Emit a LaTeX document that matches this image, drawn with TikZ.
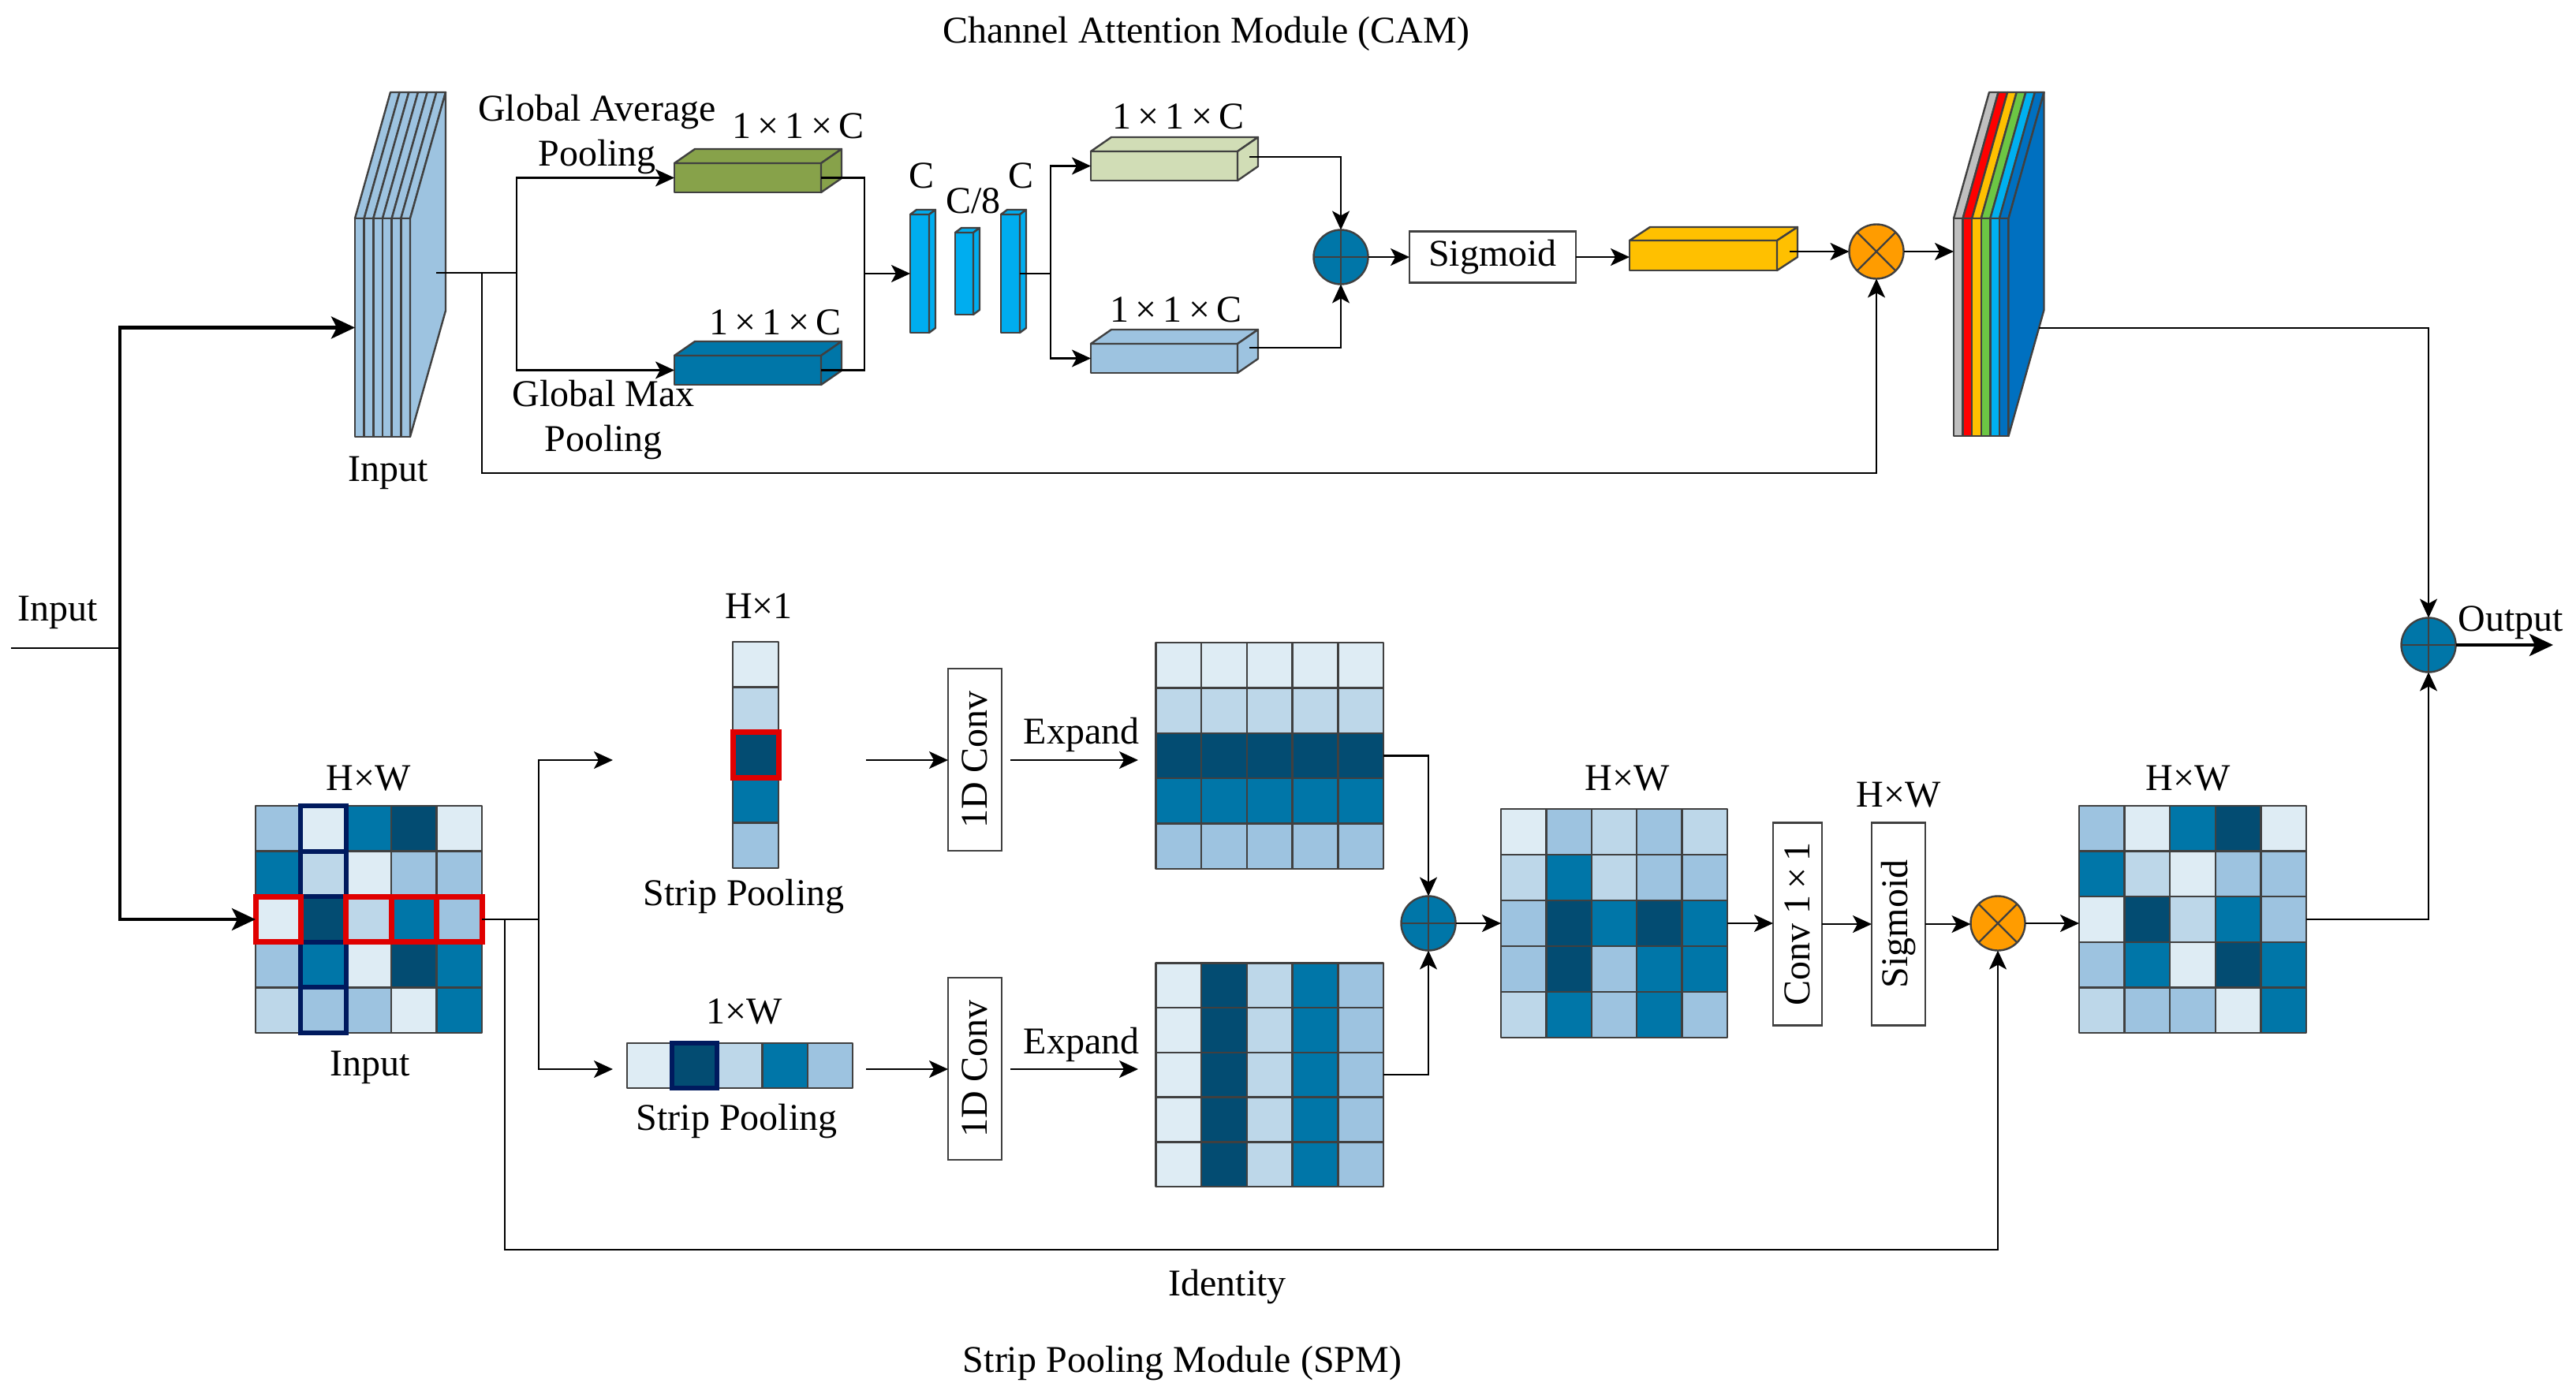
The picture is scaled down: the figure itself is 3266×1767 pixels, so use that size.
\documentclass[tikz,border=0pt]{standalone}
\usepackage{fontspec}
\setmainfont{Liberation Serif}
\usepackage{graphicx}
\usetikzlibrary{arrows.meta,calc}

\definecolor{ca}{HTML}{DEECF4}
\definecolor{cb}{HTML}{BDD7E9}
\definecolor{cc}{HTML}{9DC3E0}
\definecolor{cd}{HTML}{0076A8}
\definecolor{ce}{HTML}{034C72}
\definecolor{edge}{HTML}{404040}
\definecolor{gapc}{HTML}{87A24A}
\definecolor{paleg}{HTML}{D1DDB6}
\definecolor{amber}{HTML}{FFC000}
\definecolor{mulor}{HTML}{FF9C00}
\definecolor{barcol}{HTML}{00ADEF}
\definecolor{sgray}{HTML}{BFBFBF}
\definecolor{sred}{HTML}{FF0000}
\definecolor{sgreen}{HTML}{6CC644}
\definecolor{scyan}{HTML}{00B0F0}
\definecolor{sblue}{HTML}{0070C0}
\definecolor{hired}{HTML}{E00000}
\definecolor{hinavy}{HTML}{001A5E}

\newcommand\cuboid[8]{%
  \node[face, fill=#8, minimum width=#4pt, minimum height=#5pt] (#1) at (#2,#3) {};
  \draw[outline, fill=#8] (#1.north west) -- ++(#6,#7) -- ++(#4,0) -- (#1.north east) -- cycle;
  \draw[outline, fill=#8] (#1.north east) -- ++(#6,#7) -- ++(0,#5) -- (#1.south east) -- cycle;
}
\newcommand\cellgrid[5]{%
  \foreach \rw [count=\ri from 0] in {#5} {
    \foreach \cl [count=\ci from 0] in \rw {
      \draw[outline, fill=\cl] (#1+\ci*#3, #2+\ri*#4) rectangle ++(#3,#4);
    }
  }
}

\begin{document}
\begin{tikzpicture}[x=1pt,y=-1pt,
  every node/.style={font=\fontsize{48}{57}\selectfont, inner sep=0pt, outer sep=0pt},
  conn/.style={line width=2.2pt, draw=black},
  arr/.style={conn, -{Stealth[length=24pt,width=22pt,inset=6pt]}},
  thickarr/.style={line width=4.2pt, draw=black, -{Stealth[length=30pt,width=28pt,inset=7pt]}},
  outline/.style={draw=edge, line width=2.4pt, line join=round},
  face/.style={outline, rectangle},
  opbox/.style={rectangle, draw=edge, line width=2.4pt, fill=white},
  area/.style={rectangle},
  redb/.style={draw=hired, line width=7pt},
  navyb/.style={draw=hinavy, line width=6pt},
  addc/.style={circle, draw=edge, line width=2.4pt, fill=cd, minimum size=69pt,
    path picture={\draw[edge, line width=2.4pt] (path picture bounding box.north) -- (path picture bounding box.south) (path picture bounding box.west) -- (path picture bounding box.east);}},
  mulc/.style={circle, draw=edge, line width=2.4pt, fill=mulor, minimum size=69pt,
    path picture={\draw[edge, line width=2.4pt] (path picture bounding box.north west) -- (path picture bounding box.south east) (path picture bounding box.north east) -- (path picture bounding box.south west);}}
]
\useasboundingbox (0,0) rectangle (3266,1767);

% ---------------- CAM ----------------
% input stack
\foreach \i in {0,...,5} {
  \draw[outline, fill=cc] (450+\i*11.667,277) -- ++(45,-160) -- ++(11.667,0) -- ++(-45,160) -- cycle;
  \draw[outline, fill=cc] (450+\i*11.667,277) rectangle ++(11.667,277);
}
\draw[outline, fill=cc] (520,277) -- (565,117) -- (565,394) -- (520,554) -- cycle;
\node[area, minimum width=70pt, minimum height=277pt] (camin) at (485,415.5) {};

% output stack
\foreach \col [count=\i from 0] in {sgray,sred,amber,sgreen,scyan,sblue} {
  \draw[outline, fill=\col] (2477+\i*11.583,277) -- ++(45,-160) -- ++(11.583,0) -- ++(-45,160) -- cycle;
  \draw[outline, fill=\col] (2477+\i*11.583,277) rectangle ++(11.583,276);
}
\draw[outline, fill=sblue] (2546.5,277) -- (2591.5,117) -- (2591.5,393) -- (2546.5,553) -- cycle;
\node[area, minimum width=69.5pt, minimum height=276pt] (camout) at (2511.75,415) {};

\cuboid{gap}{948}{225.5}{186}{37}{26}{-18}{gapc}
\cuboid{gmp}{948}{469.5}{186}{37}{26}{-18}{cd}
\cuboid{bara}{1166}{347}{24}{150}{8}{-6}{barcol}
\cuboid{barb}{1222.5}{347}{23}{104}{8}{-6}{barcol}
\cuboid{barcc}{1281}{347}{24}{150}{8}{-6}{barcol}
\cuboid{fca}{1476}{210.5}{186}{37}{26}{-18}{paleg}
\cuboid{fcb}{1476}{454.5}{186}{37}{26}{-18}{cc}
\cuboid{attw}{2159.5}{324}{187}{38}{26}{-17}{amber}

\node[opbox, minimum width=211pt, minimum height=65pt] (sig1) at (1892.5,326) {Sigmoid};
\node[addc] (add1) at (1700,326) {};
\node[mulc] (mul1) at (2379,319) {};
\node[addc] (add2) at (3079,818) {};

% ---------------- SPM ----------------
\cellgrid{324}{1022}{57.4}{57.6}{{cc,ca,cd,ce,ca},{cd,cb,ca,cc,cc},{ca,ce,cb,cd,cc},{cc,cd,ca,ce,cd},{cb,cc,cc,ca,cd}}
\foreach \r in {0,...,4} \draw[navyb] (324+57.4,1022+\r*57.6) rectangle ++(57.4,57.6);
\foreach \c in {0,2,3,4} \draw[redb] (324+\c*57.4,1022+2*57.6) rectangle ++(57.4,57.6);
\node[area, minimum width=287pt, minimum height=288pt] (ing) at (467.5,1166) {};

\cellgrid{929}{814}{58}{57.4}{{ca},{cb},{ce},{cd},{cc}}
\draw[redb] (929,814+2*57.4) rectangle ++(58,57.4);
\node[area, minimum width=58pt, minimum height=287pt] (sa) at (958,957.5) {};

\cellgrid{795}{1323}{57.2}{57}{{ca,ce,cb,cd,cc}}
\draw[navyb] (795+57.2,1323) rectangle ++(57.2,57);
\node[area, minimum width=286pt, minimum height=57pt] (sb) at (938,1351.5) {};

\node[opbox, minimum width=68pt, minimum height=231pt] (cva) at (1236,963.5) {\rotatebox{90}{1D Conv}};
\node[opbox, minimum width=68pt, minimum height=231pt] (cvb) at (1236,1355.5) {\rotatebox{90}{1D Conv}};

\cellgrid{1465.5}{815}{57.7}{57.4}{{ca,ca,ca,ca,ca},{cb,cb,cb,cb,cb},{ce,ce,ce,ce,ce},{cd,cd,cd,cd,cd},{cc,cc,cc,cc,cc}}
\node[area, minimum width=288.5pt, minimum height=287pt] (ega) at (1609.75,958.5) {};
\cellgrid{1465.5}{1221.5}{57.7}{56.7}{{ca,ce,cb,cd,cc},{ca,ce,cb,cd,cc},{ca,ce,cb,cd,cc},{ca,ce,cb,cd,cc},{ca,ce,cb,cd,cc}}
\node[area, minimum width=288.5pt, minimum height=283.5pt] (egb) at (1609.75,1363.25) {};

\cellgrid{1903}{1026}{57.4}{58}{{ca,cc,cb,cc,cb},{cb,cd,cb,cc,cc},{cc,ce,cd,ce,cd},{cc,ce,cc,cd,cd},{cb,cd,cc,cd,cc}}
\node[area, minimum width=287pt, minimum height=290pt] (mg) at (2046.5,1171) {};

\node[opbox, minimum width=62pt, minimum height=257pt] (cv3) at (2279,1172) {\rotatebox{90}{Conv 1\,×\,1}};
\node[opbox, minimum width=68pt, minimum height=257pt] (sig2) at (2407,1172) {\rotatebox{90}{Sigmoid}};
\node[addc] (add3) at (1811,1171) {};
\node[mulc] (mul2) at (2533,1171) {};

\cellgrid{2636}{1022}{57.6}{57.6}{{cc,ca,cd,ce,ca},{cd,cb,ca,cc,cc},{ca,ce,cb,cd,cc},{cc,cd,ca,ce,cd},{cb,cc,cc,ca,cd}}
\node[area, minimum width=288pt, minimum height=288pt] (og) at (2780,1166) {};

% ---------------- coordinates ----------------
\coordinate (inbeg) at (14,822);
\coordinate (insplit) at (152,822);
\coordinate (camo) at (553,346);
\coordinate (cams) at (655,346);
\coordinate (camk) at (611,346);
\coordinate (camkb) at (611,600);
\coordinate (mrg) at (1096,347);
\coordinate (fcs) at (1332,347);
\coordinate (fcao) at (1584,199);
\coordinate (fcbo) at (1584,441);
\coordinate (attwo) at (2269,319);
\coordinate (camoo) at (2585,416);
\coordinate (outend) at (3237,818);
\coordinate (ida) at (640,1166);
\coordinate (idb) at (640,1585);
\coordinate (spl) at (683,1166);
\coordinate (saa) at (777,964);
\coordinate (sba) at (777,1356);
\coordinate (sao) at (1098,964);
\coordinate (sbo) at (1098,1356);
\coordinate (exas) at (1281,964);
\coordinate (exae) at (1443,964);
\coordinate (exbs) at (1281,1356);
\coordinate (exbe) at (1443,1356);

% ---------------- connectors ----------------
\draw[conn] (inbeg) -- (insplit);
\draw[thickarr] (insplit) |- (camin.west);
\draw[thickarr] (insplit) |- (ing.west);

\draw[conn] (camo) -- (cams);
\draw[arr] (cams) |- (gap.west);
\draw[arr] (cams) |- (gmp.west);
\draw[arr] (camk) -- (camkb) -| (mul1.south);
\draw[conn] (gap.east) -| (mrg);
\draw[conn] (gmp.east) -| (mrg);
\draw[arr] (mrg) -- (bara.west);
\draw[conn] (barcc.east) -- (fcs);
\draw[arr] (fcs) |- (fca.west);
\draw[arr] (fcs) |- (fcb.west);
\draw[arr] (fcao) -| (add1.north);
\draw[arr] (fcbo) -| (add1.south);
\draw[arr] (add1.east) -- (sig1.west);
\draw[arr] (sig1.east) -- (sig1.east -| attw.west);
\draw[arr] (attwo) -- (mul1.west);
\draw[arr] (mul1.east) -- (mul1.east -| camout.west);
\draw[arr] (camoo) -| (add2.north);
\draw[thickarr] (add2.east) -- (outend);

\draw[conn] (ing.east) -- (spl);
\draw[arr] (spl) |- (saa);
\draw[arr] (spl) |- (sba);
\draw[arr] (ida) -- (idb) -| (mul2.south);
\draw[arr] (sao) -- (sao -| cva.west);
\draw[arr] (sbo) -- (sbo -| cvb.west);
\draw[arr] (exas) -- (exae);
\draw[arr] (exbs) -- (exbe);
\draw[arr] (ega.east) -| (add3.north);
\draw[arr] (egb.east) -| (add3.south);
\draw[arr] (add3.east) -- (mg.west);
\draw[arr] (mg.east) -- (mg.east -| cv3.west);
\draw[arr] (cv3.east) -- (sig2.west);
\draw[arr] (sig2.east) -- (sig2.east -| mul2.west);
\draw[arr] (mul2.east) -- (mul2.east -| og.west);
\draw[arr] (og.east) -| (add2.south);

% ---------------- labels ----------------
\node (ttl) at (1529,43) {Channel Attention Module (CAM)};
\node[align=center] (gaplbl) at (757,171) {Global Average\\Pooling};
\node[align=center] (gmplbl) at (765,533) {Global Max\\Pooling};
\node (inlbl1) at (492,600) {Input};
\node (gapdim) at (1012,160) {1\,×\,1\,×\,C};
\node (gmpdim) at (983,409) {1\,×\,1\,×\,C};
\node (fcadim) at (1494,148) {1\,×\,1\,×\,C};
\node (fcbdim) at (1491,393) {1\,×\,1\,×\,C};
\node (lc1) at (1168,223) {C};
\node (lc8) at (1234,255) {C/8};
\node (lc2) at (1294,223) {C};
\node (inlbl0) at (73,777) {Input};
\node (outlbl) at (3183,790) {Output};

\node (inghw) at (467,987) {H×W};
\node (inglbl) at (469,1354) {Input};
\node (salbl) at (962,769) {H×1};
\node (sacap) at (943,1137) {Strip Pooling};
\node (sblbl) at (944,1283) {1×W};
\node (sbcap) at (934,1422) {Strip Pooling};
\node (exal) at (1371,932) {Expand};
\node (exbl) at (1371,1325) {Expand};
\node (mghw) at (2063,987) {H×W};
\node (sghw) at (2407,1008) {H×W};
\node (oghw) at (2774,987) {H×W};
\node (idlbl) at (1556,1632) {Identity};
\node (spmlbl) at (1499,1729) {Strip Pooling Module (SPM)};
\end{tikzpicture}
\end{document}
